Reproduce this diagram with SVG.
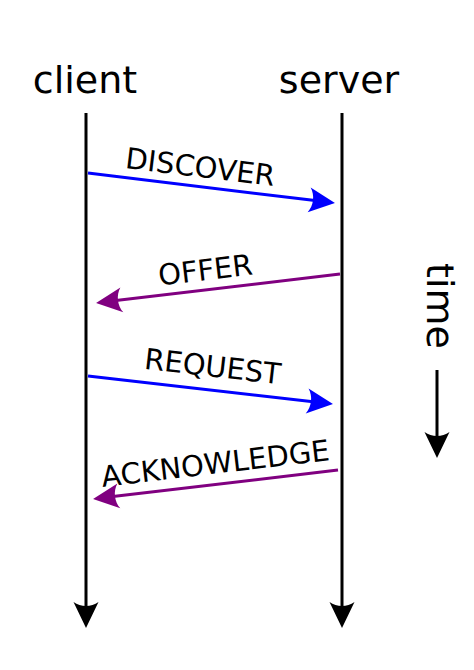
<svg xmlns="http://www.w3.org/2000/svg" width="474" height="670" viewBox="0 0 474 670">
<style>
text{font-family:"DejaVu Sans","Liberation Sans",sans-serif;fill:#000}
.title{font-size:38px}
.msg{font-size:29px;text-anchor:middle}
.life{stroke:#000;stroke-width:3;fill:none}
.blue{stroke:#0000ff;stroke-width:3;fill:none}
.purple{stroke:#800080;stroke-width:3;fill:none}
</style>
<defs>
<marker id="ahBlack" markerUnits="userSpaceOnUse" orient="auto" viewBox="-28 -14 30 28" refX="-20" refY="0" markerWidth="30" markerHeight="28" overflow="visible">
<path d="M0,0 L-26,-12.5 C-20.8,-5 -20.8,5 -26,12.5 Z" fill="#000"/>
</marker>
<marker id="ahBlue" markerUnits="userSpaceOnUse" orient="auto" viewBox="-28 -14 30 28" refX="-20" refY="0" markerWidth="30" markerHeight="28" overflow="visible">
<path d="M0,0 L-26,-12.5 C-20.8,-5 -20.8,5 -26,12.5 Z" fill="#0000ff"/>
</marker>
<marker id="ahPurple" markerUnits="userSpaceOnUse" orient="auto" viewBox="-28 -14 30 28" refX="-20" refY="0" markerWidth="30" markerHeight="28" overflow="visible">
<path d="M0,0 L-26,-12.5 C-20.8,-5 -20.8,5 -26,12.5 Z" fill="#800080"/>
</marker>
</defs>
<rect width="474" height="670" fill="#fff"/>
<g id="client">
<text class="title" x="85" y="93" text-anchor="middle">client</text>
</g>
<g id="server">
<text class="title" x="339" y="93" text-anchor="middle">server</text>
</g>
<g id="time">
<text class="title" x="427" y="263" transform="rotate(90 427 263)">time</text>
</g>
<g id="connectors">
<line class="life" x1="86" y1="113" x2="86" y2="608" marker-end="url(#ahBlack)"/>
<line class="life" x1="342" y1="113" x2="342" y2="608" marker-end="url(#ahBlack)"/>
<line class="life" x1="437" y1="370" x2="437" y2="438" marker-end="url(#ahBlack)"/>
<line class="blue" x1="88" y1="173" x2="315.1" y2="200.6" marker-end="url(#ahBlue)"/>
<line class="purple" x1="340" y1="274" x2="115.9" y2="300.6" marker-end="url(#ahPurple)"/>
<line class="blue" x1="88" y1="376" x2="313.1" y2="401.7" marker-end="url(#ahBlue)"/>
<line class="purple" x1="338" y1="470" x2="112.9" y2="496.6" marker-end="url(#ahPurple)"/>
<text class="msg" x="199" y="177" transform="rotate(6.9 199 177)">DISCOVER</text>
<text class="msg" x="206.5" y="280" transform="rotate(-6.8 206.5 280)">OFFER</text>
<text class="msg" x="211.5" y="376.5" transform="rotate(6.5 211.5 376.5)">REQUEST</text>
<text class="msg" x="216.5" y="473.5" transform="rotate(-6.75 216.5 473.5)">ACKNOWLEDGE</text>
</g>
</svg>
